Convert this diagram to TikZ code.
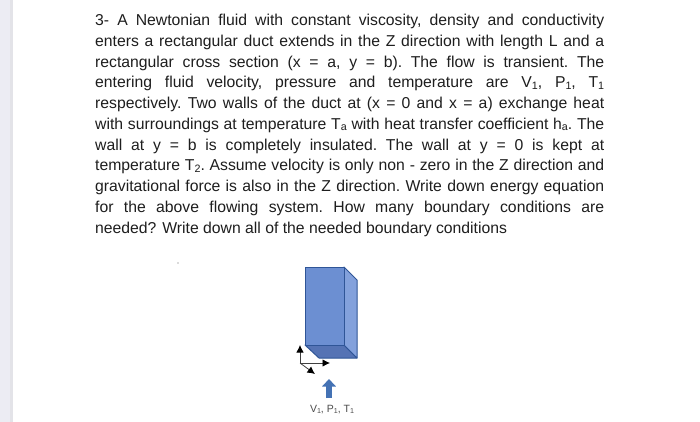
\documentclass[tikz,border=0pt]{standalone}
\usepackage{fontspec}
\setmainfont{Liberation Sans}
\usetikzlibrary{arrows.meta}
\newcommand{\lowsub}[1]{\raisebox{-0.1em}{\scalebox{0.68}{#1}}}
\newcommand{\jline}[1]{\makebox[509pt][s]{\frenchspacing #1}}
\definecolor{bandA}{HTML}{ECECF3}
\definecolor{bandB}{HTML}{E3E3E8}
\definecolor{faceF}{HTML}{6C8FD2}
\definecolor{faceS}{HTML}{83A1DC}
\definecolor{faceB}{HTML}{5573B4}
\definecolor{edgeC}{HTML}{2F5597}
\definecolor{arrowC}{HTML}{4472B4}
\definecolor{txt}{HTML}{1E1E1E}
\tikzset{
  x=1pt,y=-1pt,
  textline/.style={anchor=base west,inner sep=0pt,font=\fontsize{15.75}{16}\selectfont,text=txt},
  face/.style={draw=edgeC,line width=1pt,line join=round},
  axisarrow/.style={draw=black!75,line width=0.8pt,-{Latex[length=7.5pt,width=7.5pt,black]}},
  flowarrow/.style={draw=arrowC,line width=6pt,-{Triangle[length=7.5pt,width=13.5pt]}},
  caption/.style={inner sep=0pt,font=\fontsize{10.5}{11}\selectfont,text=black!70},
}
\begin{document}
\begin{tikzpicture}
\useasboundingbox (0,0) rectangle (700,422);
\fill[white] (0,0) rectangle (700,422);
\fill[bandA] (0,0) rectangle (10,422);
\fill[bandB] (10,0) rectangle (13,422);
\node[textline] (l1) at (95,26) {\jline{3- A Newtonian fluid with constant viscosity, density and conductivity}};
\node[textline] (l2) at (95,46.7) {\jline{enters a rectangular duct extends in the Z direction with length L and a}};
\node[textline] (l3) at (95,67.4) {\jline{rectangular cross section (x = a, y = b). The flow is transient. The}};
\node[textline] (l4) at (95,88) {\jline{entering fluid velocity, pressure and temperature are V\lowsub{1}, P\lowsub{1}, T\lowsub{1}}};
\node[textline] (l5) at (95,108.7) {\jline{respectively. Two walls of the duct at (x = 0 and x = a) exchange heat}};
\node[textline] (l6) at (95,129.4) {\jline{with surroundings at temperature T\lowsub{a} with heat transfer coefficient h\lowsub{a}. The}};
\node[textline] (l7) at (95,150) {\jline{wall at y = b is completely insulated. The wall at y = 0 is kept at}};
\node[textline] (l8) at (95,170.7) {\jline{temperature T\lowsub{2}. Assume velocity is only non - zero in the Z direction and}};
\node[textline] (l9) at (95,191.4) {\jline{gravitational force is also in the Z direction. Write down energy equation}};
\node[textline] (l10) at (95,212) {\jline{for the above flowing system. How many boundary conditions are}};
\node[textline] (l11) at (95,233.4) {needed? Write down all of the needed boundary conditions};
\fill[black!60] (178,263) circle (0.7);
% duct
\draw[face,fill=faceB] (305,345) -- (344,345) -- (357,358) -- (319,358) -- cycle;
\draw[face,fill=faceS] (344,267) -- (357,280) -- (357,358) -- (344,345) -- cycle;
\draw[face,fill=faceF] (305,267) rectangle (344,345);
% axes
\coordinate (o) at (300,363);
\coordinate (ay) at (300,345);
\coordinate (ax) at (330,363);
\coordinate (az) at (315,374);
\draw[axisarrow] (o) -- (ay);
\draw[axisarrow] (o) -- (ax);
\draw[axisarrow] (o) -- (az);
% inlet
\coordinate (fa) at (329,398);
\coordinate (fb) at (329,379);
\draw[flowarrow] (fa) -- (fb);
\node[caption] (cap) at (332,410) {V\lowsub{1}, P\lowsub{1}, T\lowsub{1}};
\end{tikzpicture}
\end{document}
